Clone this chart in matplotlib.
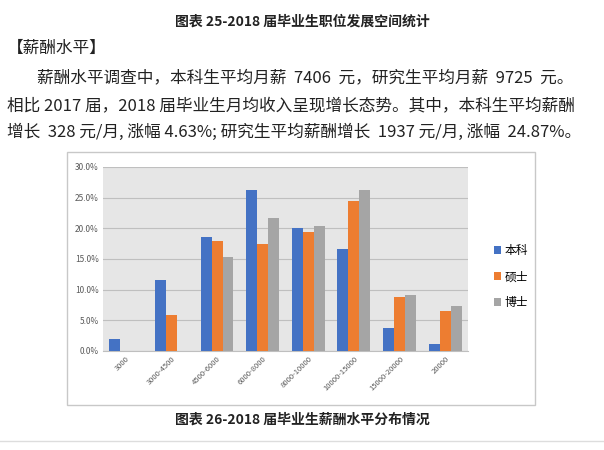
import matplotlib.pyplot as plt
import numpy as np
from matplotlib.patches import Rectangle
from matplotlib.lines import Line2D

plt.rcParams['font.family'] = ['Noto Sans CJK SC', 'DejaVu Sans']

categories = ["3000", "3000-4500", "4500-6000", "6000-8000",
              "8000-10000", "10000-15000", "15000-20000", "20000"]
bachelor = [1.9, 11.6, 18.6, 26.3, 20.0, 16.7, 3.8, 1.2]
master = [0.0, 5.8, 18.0, 17.4, 19.4, 24.5, 8.8, 6.6]
doctor = [0.0, 0.0, 15.4, 21.6, 20.4, 26.3, 9.2, 7.3]
series_names = ["本科", "硕士", "博士"]
colors = ["#4472C4", "#ED7D31", "#A5A5A5"]

yticks = [0, 5, 10, 15, 20, 25, 30]

fig = plt.figure(figsize=(6.04, 4.5), dpi=100)

# document text above the chart
fig.text(0.5, 0.951, "图表 25-2018 届毕业生职位发展空间统计", ha="center", va="center",
         fontsize=10, fontweight="bold", color="#222222")
fig.text(0.012, 0.893, "【薪酬水平】", ha="left", va="center", fontsize=12, color="#222222")
lines = [
    (0.062, 0.827, "薪酬水平调查中，本科生平均月薪  7406  元，研究生平均月薪  9725  元。"),
    (0.012, 0.766, "相比 2017 届，2018 届毕业生月均收入呈现增长态势。其中，本科生平均薪酬"),
    (0.012, 0.705, "增长  328 元/月, 涨幅 4.63%; 研究生平均薪酬增长  1937 元/月, 涨幅  24.87%。"),
]
for x, y, s in lines:
    fig.text(x, y, s, ha="left", va="center", fontsize=12, color="#222222")

# chart frame (behind the axes)
frame = Rectangle((0.111, 0.10), 0.775, 0.562, transform=fig.transFigure,
                  facecolor="white", edgecolor="#c8c8c8", linewidth=1.0, zorder=-1)
fig.patches.append(frame)

ax = fig.add_axes([0.1705, 0.22, 0.6043, 0.409])
ax.set_facecolor("#e6e6e6")
x = np.arange(len(categories))
w = 0.24
for i, (vals, name, c) in enumerate(zip([bachelor, master, doctor], series_names, colors)):
    ax.bar(x + (i - 1) * w, vals, width=w, color=c, label=name, zorder=3)

ax.set_xlim(-0.5, len(categories) - 0.5)
ax.set_ylim(0, 30)
ax.set_yticks(yticks)
ax.set_yticklabels([f"{t:.1f}%" for t in yticks], fontsize=6, color="#595959")
ax.set_xticks(x)
ax.set_xticklabels(categories, rotation=45, ha="right", rotation_mode="anchor",
                   fontsize=5.5, color="#595959")
ax.tick_params(length=0, pad=3)
ax.yaxis.grid(True, color="#bfbfbf", linewidth=0.8, zorder=0)
for s in ["top", "right", "left"]:
    ax.spines[s].set_visible(False)
ax.spines["bottom"].set_color("#bfbfbf")

ax.legend(loc="center left", bbox_to_anchor=(0.800, 0.385), bbox_transform=fig.transFigure,
          frameon=False, fontsize=8.5, handlelength=0.6, handleheight=0.6,
          handletextpad=0.3, labelspacing=1.1)

fig.text(0.5, 0.067, "图表 26-2018 届毕业生薪酬水平分布情况", ha="center", va="center",
         fontsize=10, fontweight="bold", color="#222222")
fig.lines.append(Line2D([0, 1], [0.02, 0.02], transform=fig.transFigure,
                        color="#dddddd", linewidth=1.0))

fig.savefig("out.png", dpi=100, facecolor="white")
